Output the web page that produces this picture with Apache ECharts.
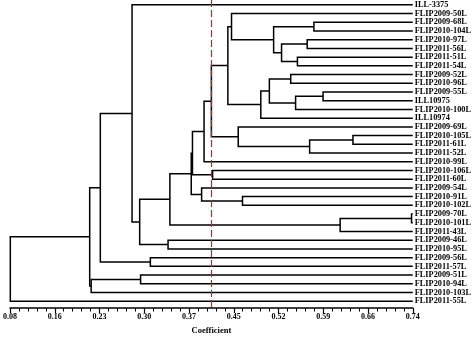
<!DOCTYPE html>
<html>
<head>
<meta charset="utf-8">
<script src="https://cdn.jsdelivr.net/npm/echarts@6/dist/echarts.min.js"></script>
<style>html,body{margin:0;padding:0;background:#fff}#c{width:474px;height:340px}</style>
</head>
<body>
<div id="c"></div>
<script>
// Leaves, top to bottom
const leafLabels = ['ILL-3375','FLIP2009-50L','FLIP2009-68L','FLIP2010-104L','FLIP2010-97L','FLIP2011-56L','FLIP2011-51L','FLIP2011-54L','FLIP2009-52L','FLIP2010-96L','FLIP2009-55L','ILL10975','FLIP2010-100L','ILL10974','FLIP2009-69L','FLIP2010-105L','FLIP2011-61L','FLIP2011-52L','FLIP2010-99L','FLIP2010-106L','FLIP2011-60L','FLIP2009-54L','FLIP2010-91L','FLIP2010-102L','FLIP2009-70L','FLIP2010-101L','FLIP2011-43L','FLIP2009-46L','FLIP2010-95L','FLIP2009-56L','FLIP2011-57L','FLIP2009-51L','FLIP2010-94L','FLIP2010-103L','FLIP2011-55L'];
// Linkage: merge i creates node id (leafLabels.length + i)
const mergeLeft   = [24,35,15,37,10,39,8,41,42,2,4,6,45,44,1,49,14,50,52,19,53,22,21,55,58,27,59,0,29,62,31,65,64,67];
const mergeRight  = [25,26,16,17,11,12,9,40,13,3,5,7,46,47,48,43,38,51,18,20,54,23,56,57,36,28,60,61,30,63,32,33,66,34];
const mergeHeight = [0.738,0.621,0.642,0.571,0.593,0.548,0.540,0.505,0.491,0.578,0.567,0.551,0.525,0.512,0.443,0.437,0.454,0.410,0.398,0.412,0.379,0.461,0.394,0.377,0.342,0.339,0.2925,0.280,0.310,0.228,0.294,0.213,0.2106,0.0805];
const tickLabels = ['0.08','0.16','0.23','0.30','0.37','0.45','0.52','0.59','0.66','0.74'];
const axisMin = 0.08, axisMax = 0.74;
const cutoff = 0.41;

const n = leafLabels.length;
const nodeX = [], nodeY = [];
for (let i = 0; i < n; i++) { nodeX.push(axisMax); nodeY.push(i); }
const segs = [];
for (let i = 0; i < mergeLeft.length; i++) {
  const a = mergeLeft[i], b = mergeRight[i], h = mergeHeight[i];
  segs.push({coords: [[nodeX[a], nodeY[a]], [h, nodeY[a]], [h, nodeY[b]], [nodeX[b], nodeY[b]]]});
  nodeX.push(h); nodeY.push((nodeY[a] + nodeY[b]) / 2);
}
const step = (axisMax - axisMin) / (tickLabels.length - 1);
const font = 'Liberation Serif';

const chart = echarts.init(document.getElementById('c'), null, {renderer: 'canvas'});
chart.setOption({
  animation: false,
  backgroundColor: '#fff',
  grid: {left: 7, right: 56, top: 0, bottom: 22, containLabel: false},
  xAxis: {
    type: 'value', min: axisMin, max: axisMax, interval: step,
    axisLine: {show: true, onZero: false, lineStyle: {color: '#000', width: 1.5}},
    axisTick: {show: true, length: 5, lineStyle: {color: '#000', width: 1.2}},
    minorTick: {show: true, splitNumber: 5, length: 3.5, lineStyle: {color: '#000', width: 1}},
    splitLine: {show: false},
    axisLabel: {
      margin: 5, fontFamily: font, fontSize: 8, fontWeight: 'bold', color: '#000',
      showMaxLabel: true, showMinLabel: true,
      formatter: v => tickLabels[Math.round((v - axisMin) / step)] || ''
    },
    name: 'Coefficient', nameLocation: 'middle', nameGap: 18,
    nameTextStyle: {fontFamily: font, fontSize: 8.5, fontWeight: 'bold', color: '#000'}
  },
  yAxis: {
    type: 'value', inverse: true, min: -5/9, max: 34 + 7/9, position: 'right',
    axisLine: {show: false}, axisTick: {show: false}, splitLine: {show: false},
    axisLabel: {
      show: true, margin: 2, fontFamily: font, fontSize: 8.3, fontWeight: 'bold', color: '#000',
      customValues: leafLabels.map((_, i) => i),
      formatter: v => leafLabels[Math.round(v)] || ''
    }
  },
  series: [
    {
      type: 'lines', coordinateSystem: 'cartesian2d', polyline: true, silent: true,
      lineStyle: {color: '#000', width: 1.5, opacity: 1},
      data: segs, z: 2
    },
    {
      type: 'line', data: [], silent: true, z: 5,
      markLine: {
        silent: true, symbol: 'none', animation: false,
        label: {show: false},
        lineStyle: {color: '#e3141b', width: 1.2, type: [7, 3]},
        data: [{xAxis: cutoff}]
      }
    }
  ]
});
</script>
</body>
</html>
